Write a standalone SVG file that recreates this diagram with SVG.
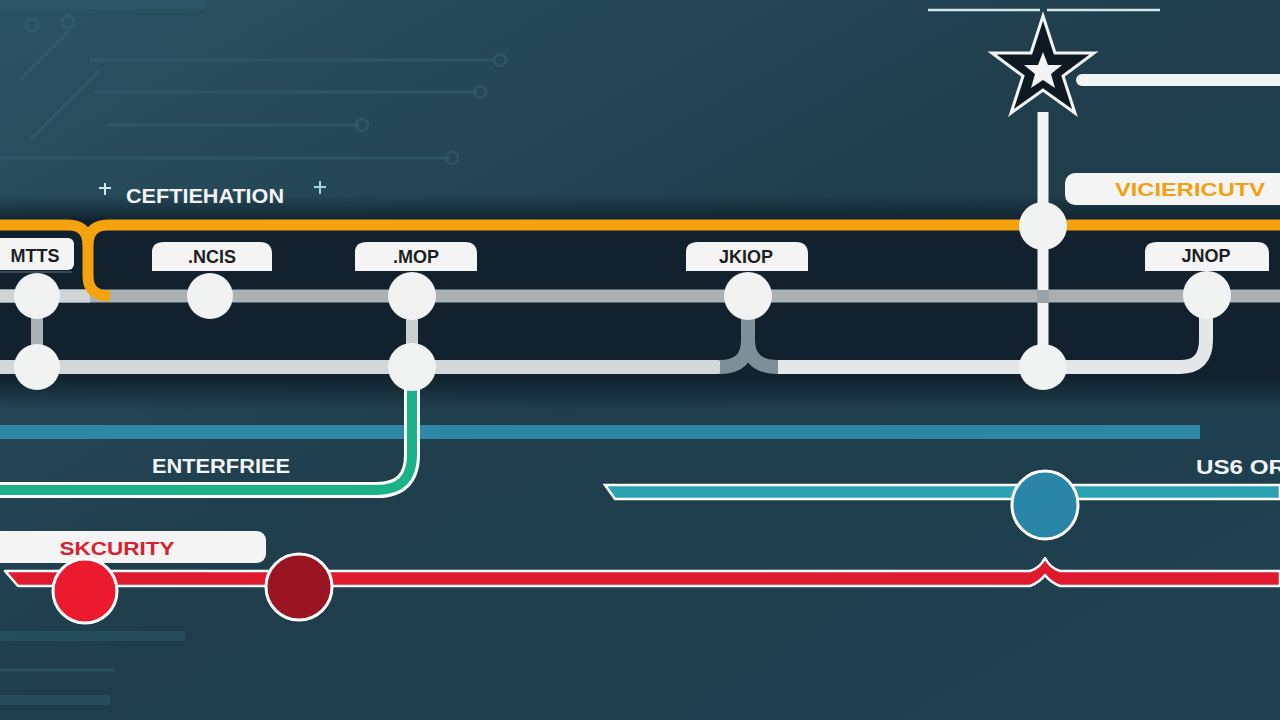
<svg xmlns="http://www.w3.org/2000/svg" width="1280" height="720" viewBox="0 0 1280 720">
<defs>
<linearGradient id="bg" x1="0" y1="0" x2="1" y2="1">
<stop offset="0" stop-color="#2b5263"/>
<stop offset="0.5" stop-color="#1f3d4b"/>
<stop offset="1" stop-color="#1f4150"/>
</linearGradient>
<linearGradient id="band" x1="0" y1="0" x2="0" y2="1">
<stop offset="0" stop-color="#11222e" stop-opacity="0"/>
<stop offset="0.12" stop-color="#11222e"/>
<stop offset="0.85" stop-color="#11222e"/>
<stop offset="1" stop-color="#11222e" stop-opacity="0"/>
</linearGradient>
<style>
.trace{stroke:#3a6878;stroke-width:3;fill:none;opacity:0.4}
.traceb{stroke:#2f5f70;stroke-width:10;fill:none;opacity:0.45}
.lbl{fill:#f4f4f4}
.lt{font-family:"Liberation Sans",Arial,sans-serif;font-weight:bold;font-size:18px;fill:#1b1f22;text-anchor:middle}
.wn{fill:#f1f2f2}
.title{font-family:"Liberation Sans",Arial,sans-serif;font-weight:bold;font-size:20px;fill:#f2f4f5;text-anchor:middle}
</style>
</defs>
<rect width="1280" height="720" fill="url(#bg)"/>
<rect x="0" y="195" width="1280" height="215" fill="url(#band)"/>
<g id="background-traces">
<path class="traceb" d="M0,4 H205"/>
<path class="trace" d="M90,60 H495 M95,92 H478 M105,125 H360 M0,158 H450"/>
<path class="trace" d="M20,80 L70,30 M30,140 L100,70"/>
<circle cx="32" cy="25" r="6" class="trace"/>
<circle cx="68" cy="22" r="6" class="trace"/>
<circle cx="500" cy="60" r="6" class="trace"/>
<circle cx="480" cy="92" r="6" class="trace"/>
<circle cx="362" cy="125" r="6" class="trace"/>
<circle cx="452" cy="158" r="6" class="trace"/>
<path class="traceb" d="M0,636 H185 M0,700 H110"/>
<path class="trace" d="M0,670 H115"/>
</g>
<g id="connectors">
<path d="M0,296 H1280" stroke="#a9b1b4" stroke-width="13" fill="none"/>
<path d="M0,296 H90" stroke="#cfd4d6" stroke-width="13" fill="none"/>
<path d="M37,296 V367" stroke="#a9b1b4" stroke-width="12" fill="none"/>
<path d="M412,296 V367" stroke="#c9cfd1" stroke-width="12" fill="none"/>
<path d="M0,367 H718" stroke="#d3d8da" stroke-width="14" stroke-linecap="round" fill="none"/>
<path d="M778,367 H1180 Q1206,367 1206,340 V296" stroke="#e4e7e8" stroke-width="14" fill="none"/>
<path d="M748,296 V340 Q748,367 720,367 M748,340 Q748,367 778,367" stroke="#7d8f97" stroke-width="14" fill="none"/>
<path d="M0,225 H68 Q88,225 88,245 V276 Q88,296 110,296" stroke="#f5a20f" stroke-width="11" fill="none"/>
<path d="M88,245 Q88,225 108,225 H1280" stroke="#f5a20f" stroke-width="11" fill="none"/>
<path d="M1043,112 V367" stroke="#f3f4f4" stroke-width="11" fill="none"/>
<rect x="1037" y="290" width="12" height="13" fill="#9aa4a8"/>
<path d="M1082,80 H1280" stroke="#f3f4f4" stroke-width="12" stroke-linecap="round" fill="none"/>
<path d="M928,10 H1040 M1047,10 H1160" stroke="#cfe6ea" stroke-width="2.5" fill="none"/>
<path d="M0,432 H1200" stroke="#2f87a8" stroke-width="14" fill="none"/>
<path d="M412,367 V455 Q412,490 377,490 H0" stroke="#ffffff" stroke-width="16" fill="none"/>
<path d="M412,367 V455 Q412,490 377,490 H0" stroke="#1bb189" stroke-width="10" fill="none"/>
<path d="M605,485 H1280 V499 H615 Z" fill="#2aa2b2" stroke="#ffffff" stroke-width="2.5"/>
<path d="M5,571 H1030 Q1040,568 1045,558 Q1050,568 1060,571 H1280 V586 H1060 Q1050,582 1045,575 Q1040,582 1030,586 H18 Z" fill="#df1a2f" stroke="#ffffff" stroke-width="2.5" stroke-linejoin="round"/>
</g>
<g id="node-star">
<polygon points="1043,16 1055,53 1094,53 1063,76 1075,113 1043,90 1011,113 1023,76 992,53 1031,53" fill="#0e1a21" stroke="#f4f6f6" stroke-width="3"/>
<polygon points="1043,52 1048,65 1062,65 1051,74 1055,88 1043,80 1031,88 1035,74 1024,65 1038,65" fill="#f2f3f3"/>
</g>
<g id="node-cert">
<text x="205" y="203" class="title" font-size="19" textLength="158" lengthAdjust="spacingAndGlyphs">CEFTIEHATION</text>
<path d="M105,183 V195 M99,188 H111" stroke="#cfe6ea" stroke-width="2"/>
<path d="M320,181 V194 M314,187 H326" stroke="#9fd4e0" stroke-width="2"/>
</g>
<g id="node-mtts">
<rect x="-10" y="238" width="84" height="32" rx="6" class="lbl"/>
<path d="M0,272 H72" stroke="#3b4a52" stroke-width="2"/>
<text x="35" y="262" class="lt">MTTS</text>
<circle cx="37" cy="296" r="23" class="wn"/>
<circle cx="37" cy="367" r="23" class="wn"/>
</g>
<g id="node-ncis">
<path d="M152,271 V252 Q152,242 164,242 H260 Q272,242 272,254 V271 Z" class="lbl"/>
<text x="212" y="263" class="lt">.NCIS</text>
<circle cx="210" cy="296" r="23" class="wn"/>
</g>
<g id="node-mop">
<path d="M355,271 V252 Q355,242 367,242 H465 Q477,242 477,254 V271 Z" class="lbl"/>
<text x="416" y="263" class="lt">.MOP</text>
<circle cx="412" cy="296" r="24" class="wn"/>
<circle cx="412" cy="367" r="24" class="wn"/>
</g>
<g id="node-jkiop">
<path d="M686,271 V252 Q686,242 698,242 H796 Q808,242 808,254 V271 Z" class="lbl"/>
<text x="746" y="263" class="lt">JKIOP</text>
<ellipse cx="748" cy="296" rx="24" ry="24" class="wn"/>
</g>
<g id="node-jnop">
<path d="M1145,271 V252 Q1145,242 1157,242 H1257 Q1269,242 1269,254 V271 Z" class="lbl"/>
<text x="1206" y="262" class="lt">JNOP</text>
<ellipse cx="1207" cy="295" rx="24" ry="24" class="wn"/>
</g>
<g id="node-v">
<rect x="1065" y="173" width="230" height="32" rx="10" class="lbl"/>
<text x="1190" y="196" class="lt" style="fill:#f2a012" textLength="150" lengthAdjust="spacingAndGlyphs">VICIERICUTV</text>
<ellipse cx="1043" cy="226" rx="24" ry="24" class="wn"/>
<ellipse cx="1043" cy="367" rx="24" ry="23" class="wn"/>
</g>
<g id="node-enterfriee">
<text x="221" y="473" class="title" textLength="138" lengthAdjust="spacingAndGlyphs">ENTERFRIEE</text>
</g>
<g id="node-uss">
<text x="1196" y="474" class="title" style="text-anchor:start" textLength="90" lengthAdjust="spacingAndGlyphs">US6 OR</text>
<ellipse cx="1045" cy="505" rx="33" ry="34" fill="#2a86a6" stroke="#ffffff" stroke-width="3"/>
</g>
<g id="node-security">
<rect x="-10" y="531" width="276" height="32" rx="9" class="lbl"/>
<text x="117" y="555" class="lt" style="fill:#d8202f" textLength="115" lengthAdjust="spacingAndGlyphs">SKCURITY</text>
<circle cx="85" cy="591" r="32" fill="#ec1a2e" stroke="#ffffff" stroke-width="3"/>
<circle cx="299" cy="587" r="33" fill="#9b1422" stroke="#ffffff" stroke-width="3"/>
</g>
</svg>
